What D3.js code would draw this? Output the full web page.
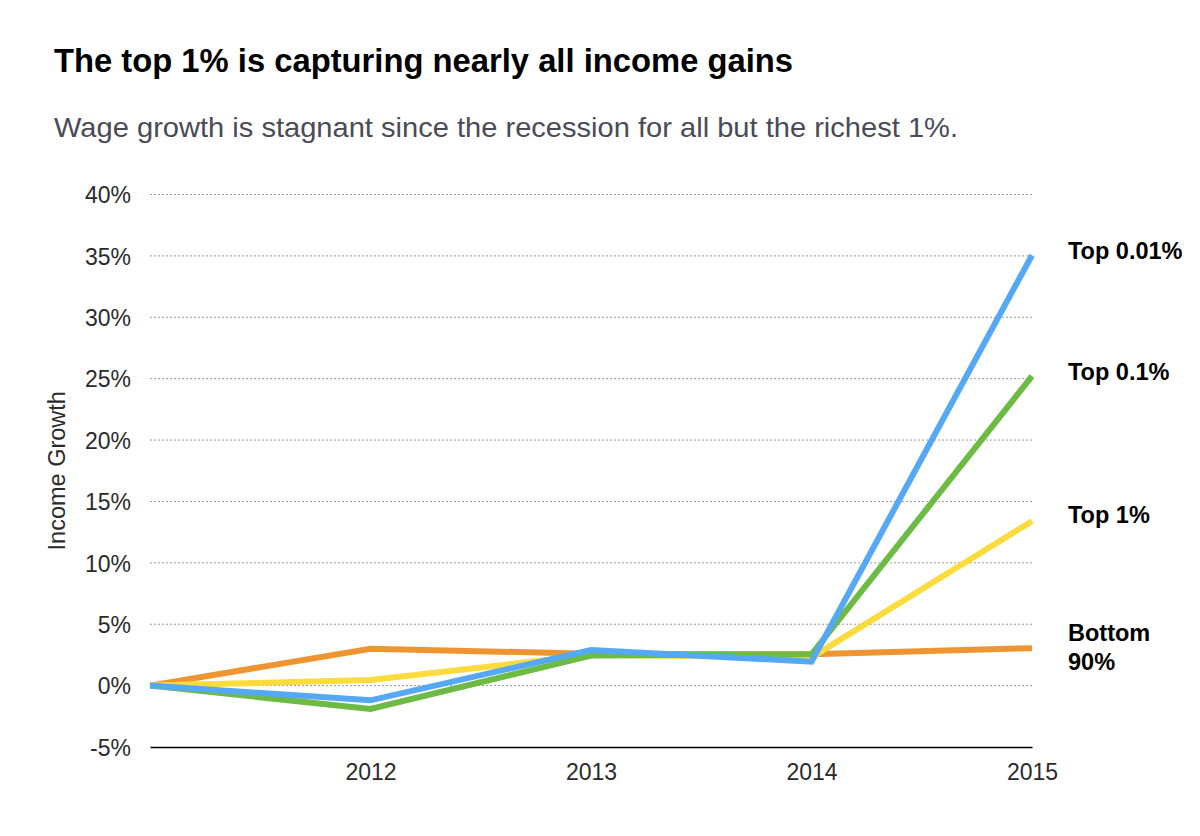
<!DOCTYPE html>
<html><head><meta charset="utf-8">
<script src="https://cdn.jsdelivr.net/npm/d3@7"></script>
<style>body{margin:0;background:#fff;}svg{display:block;font-family:"Liberation Sans",Arial,sans-serif;}</style>
</head><body><svg id="c" width="1200" height="836"></svg>
<script>
const years = [2011, 2012, 2013, 2014, 2015];
const yearLabels = ["", "2012", "2013", "2014", "2015"];
const yTicks = [-5, 0, 5, 10, 15, 20, 25, 30, 35, 40];
const seriesNames = ["Bottom 90%", "Top 1%", "Top 0.1%", "Top 0.01%"];
const bottom90 = [0, 3.0, 2.6, 2.55, 3.05];
const top1 = [0, 0.45, 2.5, 2.3, 13.4];
const top01 = [0, -1.9, 2.45, 2.55, 25.2];
const top001 = [0, -1.2, 2.9, 1.95, 35.05];
const colors = ["#ee9430", "#fbdc3c", "#6dbb44", "#54a8f4"];
const labelLines = [["Bottom", "90%"], ["Top 1%"], ["Top 0.1%"], ["Top 0.01%"]];
const allSeries = [bottom90, top1, top01, top001];

const svg = d3.select("#c");
const x = d3.scaleLinear().domain([2011, 2015]).range([150, 1032]);
const y = d3.scaleLinear().domain([-5, 40]).range([747, 194.5]);

svg.append("text").attr("x", 54).attr("y", 72).attr("font-size", 32.5).attr("font-weight", "bold").attr("fill", "#000")
  .attr("textLength", 739).attr("lengthAdjust", "spacingAndGlyphs")
  .text("The top 1% is capturing nearly all income gains");
svg.append("text").attr("x", 54).attr("y", 137).attr("font-size", 28.5).attr("fill", "#4a4b55")
  .attr("textLength", 904).attr("lengthAdjust", "spacingAndGlyphs")
  .text("Wage growth is stagnant since the recession for all but the richest 1%.");

// grid
const grid = svg.append("g");
yTicks.filter(d => d > -5).forEach(t => {
  grid.append("line").attr("x1", x(2011)).attr("x2", x(2015)).attr("y1", y(t)).attr("y2", y(t))
    .attr("stroke", "#999").attr("stroke-width", 1).attr("stroke-dasharray", "2,2");
});

// y axis labels
const yAxis = d3.axisLeft(y).tickValues(yTicks).tickFormat(d => d + "%").tickSize(0).tickPadding(0);
const yg = svg.append("g").attr("transform", "translate(131,0)").call(yAxis);
yg.select(".domain").remove();
yg.selectAll("text").attr("font-size", 23).attr("fill", "#2a2a2a").attr("font-family", "'Liberation Sans',Arial,sans-serif").attr("dy", "0.36em");

// x axis
const xAxis = d3.axisBottom(x).tickValues(years).tickFormat((d, i) => yearLabels[i]).tickSize(0).tickPadding(0);
const xg = svg.append("g").attr("transform", `translate(0,${y(-5)})`).call(xAxis);
xg.select(".domain").attr("stroke", "#000").attr("stroke-width", 1.5);
xg.selectAll("text").attr("font-size", 23).attr("fill", "#2a2a2a").attr("font-family", "'Liberation Sans',Arial,sans-serif").attr("dy", "1.45em");

svg.append("text").attr("transform", `translate(65,${y(17.5)}) rotate(-90)`).attr("text-anchor", "middle")
  .attr("font-size", 23.5).attr("fill", "#2a2a2a").text("Income Growth");

// lines
const line = d3.line().x((d, i) => x(years[i])).y(d => y(d));
allSeries.forEach((s, k) => {
  svg.append("path").attr("d", line(s)).attr("fill", "none").attr("stroke", colors[k])
    .attr("stroke-width", 6).attr("stroke-linejoin", "miter").attr("stroke-linecap", "butt");
});

// end labels
const labelY = [641, 523, 380, 259];
labelLines.forEach((ls, k) => {
  const t = svg.append("text").attr("x", 1067).attr("y", labelY[k]).attr("font-size", 23.5).attr("font-weight", "bold").attr("fill", "#000");
  ls.forEach((l, j) => t.append("tspan").attr("x", 1068).attr("dy", j === 0 ? 0 : 29).text(l));
});
</script></body></html>
